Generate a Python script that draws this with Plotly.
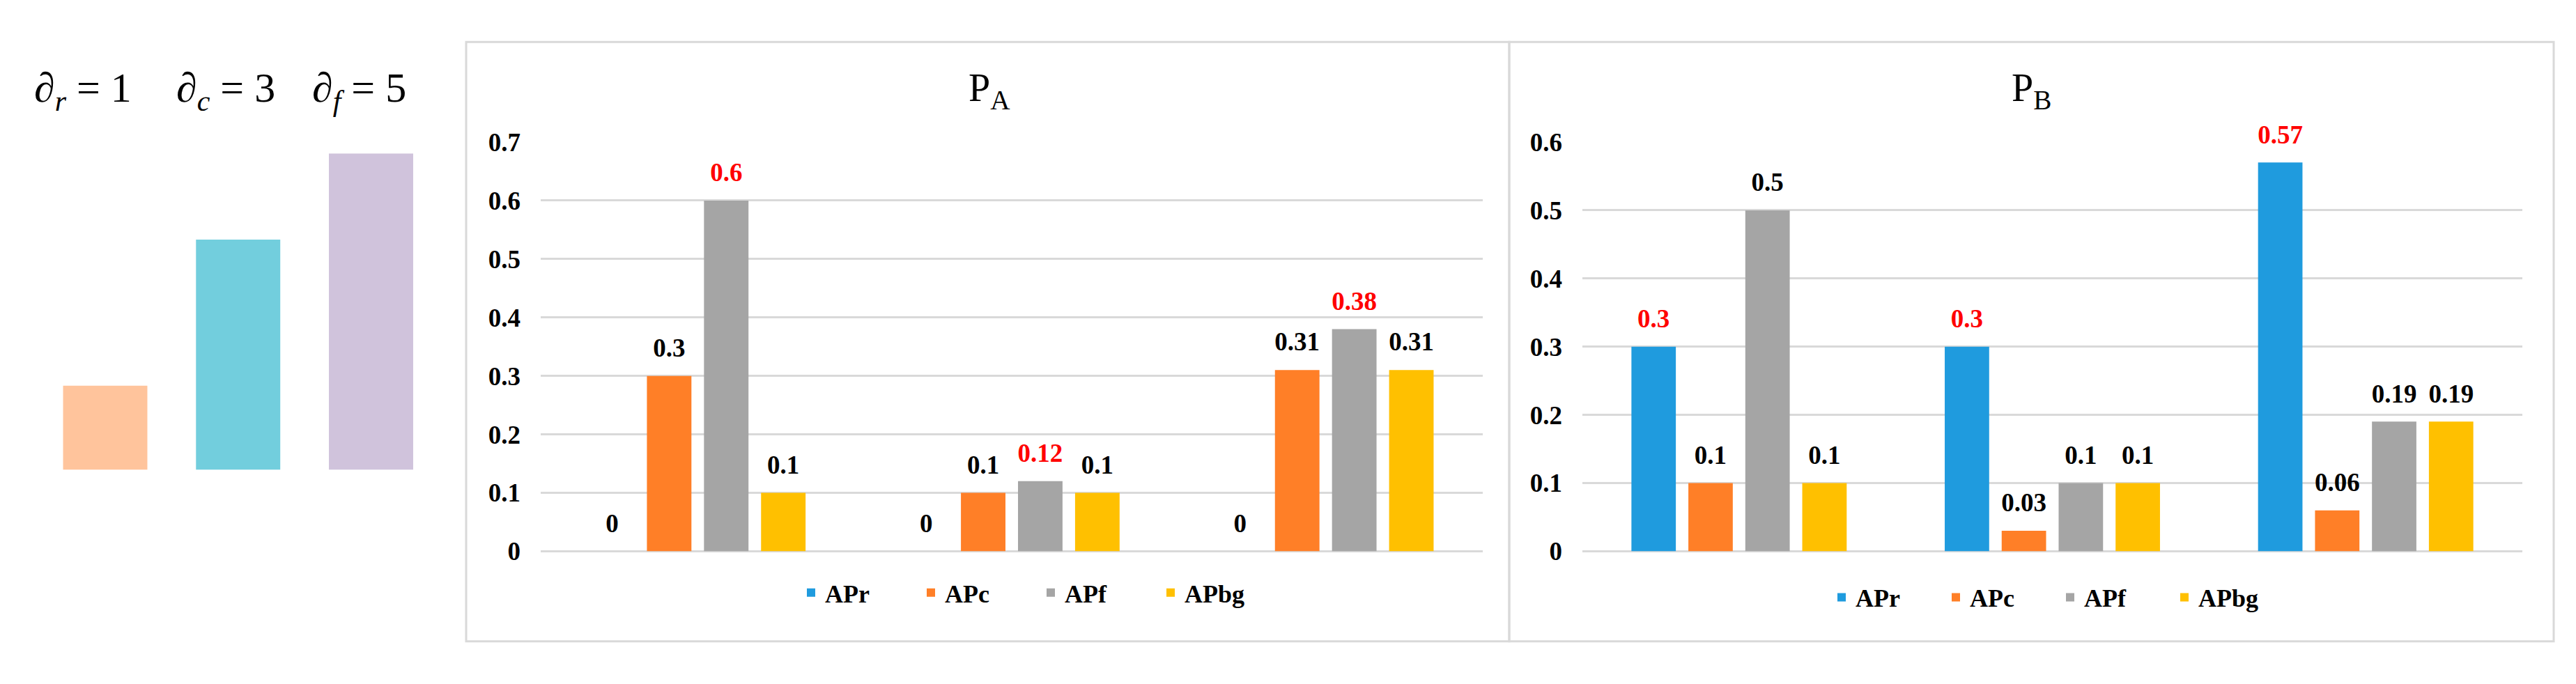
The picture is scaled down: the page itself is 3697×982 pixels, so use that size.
import plotly.graph_objects as go

W, H = 3697, 982

# ---------------- data ----------------
groups = ["1", "2", "3"]
series = ["APr", "APc", "APf", "APbg"]
series_colors = ["#1F9BDE", "#FF7F27", "#A5A5A5", "#FFC000"]

pa_apr = [0, 0, 0]
pa_apc = [0.3, 0.1, 0.31]
pa_apf = [0.6, 0.12, 0.38]
pa_apbg = [0.1, 0.1, 0.31]

pb_apr = [0.3, 0.3, 0.57]
pb_apc = [0.1, 0.03, 0.06]
pb_apf = [0.5, 0.1, 0.19]
pb_apbg = [0.1, 0.1, 0.19]

pa_highlight = "APf"
pb_highlight = "APr"

alpha_names = ["r", "c", "f"]
alpha_values = [1, 3, 5]
alpha_heights = [1.26, 3.45, 4.74]
alpha_colors = ["#FFC49C", "#72CEDD", "#D0C3DC"]

# ---------------- helpers ----------------
def fx(p):
    return p / W


def fy(p):
    return 1 - p / H


FONT = "Liberation Serif"
GRID = "#D9D9D9"
LABEL_SIZE = 37

fig = go.Figure()

panels = [
    ("x", "y", "legend", [pa_apr, pa_apc, pa_apf, pa_apbg], pa_highlight, "A"),
    ("x2", "y2", "legend2", [pb_apr, pb_apc, pb_apf, pb_apbg], pb_highlight, "B"),
]

for xa, ya, leg, vals_list, hl, tag in panels:
    for name, col, vals in zip(series, series_colors, vals_list):
        fig.add_trace(go.Bar(
            name=name, x=groups, y=vals, marker=dict(color=col, line=dict(width=0)),
            offsetgroup=tag + name, xaxis=xa, yaxis=ya, legend=leg,
            hoverinfo="skip",
        ))
    for name, vals in zip(series, vals_list):
        tcol = "#FF0000" if name == hl else "#000000"
        fig.add_trace(go.Scatter(
            x=groups, y=vals, text=[f"{v:g}" for v in vals],
            mode="markers+text", textposition="top center",
            marker=dict(size=28, color="rgba(0,0,0,0)"),
            textfont=dict(family=FONT, size=LABEL_SIZE, color=tcol, weight="bold"),
            offsetgroup=tag + name, xaxis=xa, yaxis=ya, showlegend=False,
            cliponaxis=False, hoverinfo="skip",
        ))

# left illustrative bars
fig.add_trace(go.Bar(
    x=alpha_names, y=alpha_heights, marker=dict(color=alpha_colors, line=dict(width=0)),
    width=0.634, xaxis="x3", yaxis="y3", showlegend=False, hoverinfo="skip",
))

tickfont = dict(family=FONT, size=LABEL_SIZE, color="#000000", weight="bold")
yax_common = dict(
    showgrid=True, gridcolor=GRID, gridwidth=3, zeroline=True, zerolinecolor=GRID,
    zerolinewidth=3, showline=False, ticks="", tickfont=tickfont, dtick=0.1, tick0=0,
    ticklabelstandoff=28, fixedrange=True,
)
xax_common = dict(type="category", showticklabels=False, showgrid=False, zeroline=False,
                  showline=False, ticks="", range=[-0.5, 2.5], fixedrange=True)

fig.update_layout(
    width=W, height=H,
    margin=dict(l=0, r=0, t=0, b=0, pad=0),
    paper_bgcolor="white", plot_bgcolor="white",
    font=dict(family=FONT, color="#000000"),
    barmode="group", bargap=0.273, bargroupgap=0.22,
    scattermode="group", scattergap=0.273,
    xaxis=dict(domain=[fx(776), fx(2128)], anchor="y", **xax_common),
    yaxis=dict(domain=[fy(805), fy(192)], range=[0, 0.7], anchor="x", **yax_common),
    xaxis2=dict(domain=[fx(2271), fx(3620)], anchor="y2", **xax_common),
    yaxis2=dict(domain=[fy(805), fy(192)], range=[0, 0.6], anchor="x2", **yax_common),
    xaxis3=dict(domain=[0, fx(650)], anchor="y3", type="category",
                range=[-0.7916, 2.616], visible=False, fixedrange=True),
    yaxis3=dict(domain=[fy(683), fy(209)], anchor="x3", range=[0, 4.74],
                visible=False, fixedrange=True),
    legend=dict(orientation="h", x=fx(1144), xanchor="left", y=fy(867), yanchor="middle",
                font=dict(family=FONT, size=36, color="#000000", weight="bold"),
                entrywidth=127, entrywidthmode="pixels", bgcolor="rgba(0,0,0,0)",
                traceorder="normal"),
    legend2=dict(orientation="h", x=fx(2623), xanchor="left", y=fy(874), yanchor="middle",
                 font=dict(family=FONT, size=36, color="#000000", weight="bold"),
                 entrywidth=119, entrywidthmode="pixels", bgcolor="rgba(0,0,0,0)",
                 traceorder="normal"),
    showlegend=True,
)

# panel frames
for x0, x1 in [(669, 2166), (2166, 3665)]:
    fig.add_shape(type="rect", xref="paper", yref="paper",
                  x0=fx(x0), x1=fx(x1), y0=fy(940), y1=fy(42),
                  line=dict(color=GRID, width=3), fillcolor="rgba(0,0,0,0)", layer="below")

# panel titles
for cx, sub in [(1420, "A"), (2915, "B")]:
    fig.add_annotation(text=f"P<sub>{sub}</sub>", xref="paper", yref="paper",
                       x=fx(cx), y=fy(115), xanchor="center", yanchor="middle",
                       showarrow=False, font=dict(family=FONT, size=56, color="#000000"))

# weight labels above the illustrative bars
for cx, nm, v in zip([118.5, 323.5, 515.5], alpha_names, alpha_values):
    fig.add_annotation(text=f"\u2202<sub><i>{nm}</i></sub> = {v}", xref="paper", yref="paper",
                       x=fx(cx), y=fy(115), xanchor="center", yanchor="middle",
                       showarrow=False, font=dict(family=FONT, size=60, color="#000000"))

fig.write_html("out.html", config={"displayModeBar": False},
               post_script="document.body.style.margin='0';")
